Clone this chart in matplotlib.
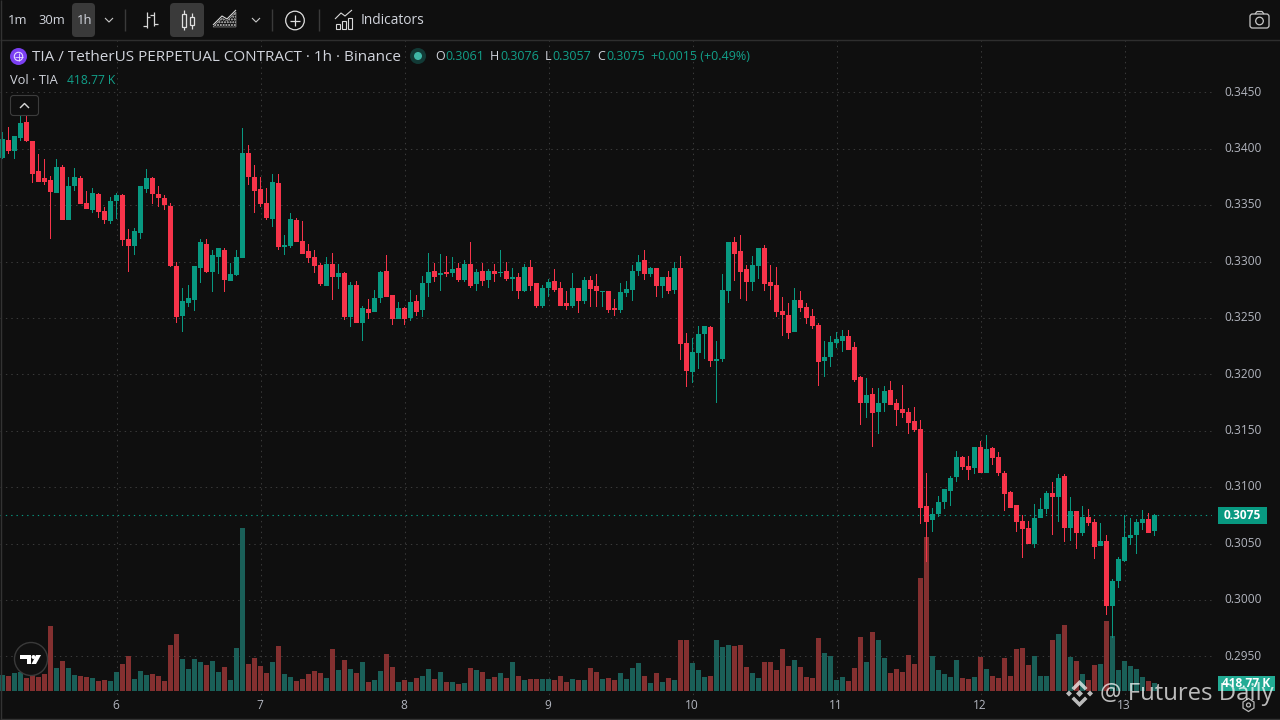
import matplotlib
matplotlib.use("Agg")
import matplotlib.pyplot as plt
from matplotlib.patches import FancyBboxPatch, Circle, Polygon, Rectangle
from matplotlib.transforms import ScaledTranslation

opens = [.3392,.3408,.3398,.3410,.3424,.3407,.3380,.3374,.3372,.3361,
.3384,.3337,.3367,.3374,.3352,.3346,.3360,.3345,.3336,.3354,
.3359,.3320,.3314,.3325,.3364,.3374,.3360,.3356,.3349,.3296,
.3252,.3263,.3266,.3294,.3316,.3291,.3304,.3310,.3283,.3288,
.3303,.3396,.3375,.3364,.3352,.3338,.3370,.3313,.3314,.3337,
.3318,.3309,.3304,.3297,.3278,.3298,.3286,.3290,.3251,.3279,
.3246,.3258,.3255,.3268,.3292,.3270,.3249,.3259,.3250,.3265,
.3257,.3281,.3292,.3288,.3291,.3290,.3294,.3284,.3298,.3280,
.3292,.3284,.3292,.3290,.3292,.3285,.3286,.3274,.3295,.3281,
.3261,.3277,.3283,.3277,.3263,.3261,.3277,.3265,.3284,.3278,
.3273,.3274,.3259,.3257,.3272,.3275,.3292,.3301,.3289,.3294,
.3278,.3286,.3275,.3294,.3228,.3202,.3219,.3236,.3242,.3212,
.3214,.3274,.3317,.3309,.3293,.3282,.3296,.3312,.3282,.3279,
.3256,.3253,.3238,.3266,.3260,.3252,.3244,.3212,.3215,.3228,
.3230,.3234,.3224,.3198,.3175,.3183,.3167,.3175,.3186,.3175,
.3169,.3167,.3159,.3152,.3083,.3071,.3076,.3087,.3097,.3109,
.3127,.3119,.3117,.3136,.3113,.3135,.3127,.3113,.3096,.3084,
.3070,.3064,.3050,.3073,.3081,.3095,.3091,.3110,.3064,.3079,
.3059,.3074,.3069,.3048,.3052,.2995,.3017,.3035,.3055,.3058,
.3068,.3072,.3061]
highs = [.3415,.3419,.3411,.3434,.3429,.3407,.3395,.3391,.3376,.3391,
.3386,.3375,.3383,.3376,.3363,.3365,.3361,.3348,.3357,.3361,
.3360,.3329,.3330,.3367,.3382,.3375,.3367,.3359,.3352,.3300,
.3277,.3279,.3296,.3320,.3320,.3310,.3312,.3312,.3299,.3310,
.3418,.3403,.3386,.3375,.3365,.3378,.3378,.3324,.3343,.3339,
.3336,.3316,.3310,.3299,.3304,.3308,.3298,.3291,.3282,.3283,
.3261,.3267,.3275,.3292,.3306,.3270,.3264,.3260,.3275,.3270,
.3287,.3308,.3299,.3307,.3305,.3304,.3299,.3301,.3317,.3293,
.3299,.3293,.3298,.3310,.3300,.3294,.3290,.3298,.3301,.3281,
.3279,.3285,.3293,.3282,.3274,.3290,.3277,.3286,.3287,.3289,
.3274,.3274,.3267,.3281,.3283,.3297,.3306,.3310,.3295,.3294,
.3286,.3292,.3300,.3305,.3237,.3232,.3243,.3243,.3243,.3230,
.3289,.3317,.3322,.3324,.3297,.3305,.3312,.3315,.3297,.3295,
.3269,.3263,.3277,.3274,.3263,.3258,.3246,.3230,.3234,.3238,
.3239,.3239,.3229,.3199,.3197,.3188,.3188,.3190,.3194,.3178,
.3191,.3170,.3171,.3160,.3113,.3082,.3092,.3098,.3110,.3132,
.3128,.3128,.3136,.3141,.3146,.3136,.3131,.3114,.3097,.3084,
.3075,.3070,.3085,.3090,.3097,.3105,.3112,.3112,.3091,.3079,
.3083,.3081,.3072,.3068,.3058,.3019,.3038,.3075,.3073,.3072,
.3080,.3077,.3076]
lows = [.3391,.3395,.3391,.3407,.3406,.3370,.3371,.3368,.3320,.3361,
.3337,.3337,.3363,.3351,.3347,.3343,.3339,.3333,.3333,.3338,
.3314,.3291,.3306,.3320,.3361,.3351,.3348,.3346,.3295,.3246,
.3238,.3260,.3256,.3281,.3290,.3273,.3289,.3273,.3283,.3287,
.3303,.3368,.3343,.3348,.3337,.3331,.3310,.3306,.3312,.3317,
.3307,.3299,.3290,.3278,.3278,.3266,.3276,.3248,.3242,.3246,
.3230,.3249,.3255,.3263,.3269,.3244,.3249,.3244,.3247,.3252,
.3251,.3269,.3282,.3274,.3286,.3286,.3282,.3282,.3277,.3274,
.3278,.3277,.3282,.3286,.3283,.3274,.3267,.3273,.3274,.3259,
.3259,.3269,.3273,.3261,.3257,.3259,.3254,.3262,.3260,.3260,
.3260,.3254,.3252,.3254,.3269,.3265,.3287,.3284,.3286,.3269,
.3268,.3271,.3271,.3213,.3189,.3192,.3205,.3214,.3207,.3175,
.3211,.3263,.3283,.3267,.3265,.3274,.3285,.3274,.3266,.3251,
.3234,.3231,.3238,.3255,.3245,.3240,.3190,.3198,.3207,.3223,
.3220,.3222,.3193,.3155,.3161,.3136,.3147,.3167,.3173,.3154,
.3161,.3147,.3149,.3067,.3034,.3060,.3074,.3081,.3083,.3105,
.3115,.3106,.3112,.3113,.3113,.3120,.3110,.3079,.3082,.3060,
.3037,.3050,.3046,.3073,.3076,.3058,.3069,.3051,.3052,.3045,
.3057,.3066,.3036,.3048,.2987,.2966,.3011,.3034,.3049,.3041,
.3062,.3059,.3057]
closes = [.3409,.3398,.3411,.3423,.3407,.3378,.3371,.3371,.3362,.3384,
.3337,.3367,.3375,.3351,.3347,.3361,.3344,.3337,.3354,.3359,
.3319,.3314,.3327,.3367,.3374,.3360,.3356,.3350,.3296,.3251,
.3265,.3268,.3296,.3317,.3291,.3306,.3312,.3284,.3289,.3304,
.3396,.3375,.3363,.3351,.3339,.3371,.3313,.3315,.3338,.3317,
.3307,.3303,.3296,.3280,.3298,.3286,.3290,.3251,.3279,.3246,
.3259,.3254,.3268,.3291,.3269,.3249,.3259,.3249,.3264,.3255,
.3281,.3291,.3286,.3290,.3289,.3293,.3284,.3298,.3278,.3291,
.3283,.3292,.3289,.3291,.3285,.3286,.3274,.3295,.3278,.3261,
.3277,.3282,.3275,.3261,.3261,.3277,.3265,.3284,.3276,.3274,
.3274,.3257,.3257,.3273,.3276,.3292,.3300,.3289,.3294,.3278,
.3286,.3274,.3294,.3227,.3203,.3220,.3236,.3243,.3212,.3214,
.3275,.3317,.3307,.3291,.3282,.3297,.3312,.3280,.3278,.3255,
.3253,.3237,.3266,.3259,.3250,.3243,.3211,.3215,.3229,.3231,
.3234,.3222,.3195,.3175,.3182,.3166,.3175,.3185,.3173,.3168,
.3166,.3157,.3151,.3082,.3069,.3076,.3087,.3098,.3108,.3127,
.3118,.3115,.3136,.3113,.3134,.3126,.3113,.3094,.3082,.3069,
.3063,.3050,.3073,.3081,.3095,.3091,.3108,.3064,.3079,.3059,
.3074,.3068,.3047,.3052,.2995,.3017,.3036,.3056,.3058,.3069,
.3072,.3059,.3075]
volumes_k = [838,785,942,1012,681,838,733,890,3403,1204,
1570,1204,838,785,733,681,524,576,524,995,
1413,1832,628,1047,838,890,785,524,2408,2984,
1675,1152,1675,1518,1361,1570,995,1256,576,2251,
8533,1413,1728,1309,942,1518,2356,890,733,524,
628,890,1047,942,681,2199,1099,1623,1152,942,
1518,471,576,1047,1937,1256,471,576,471,681,
785,1152,628,995,471,471,366,419,1204,1099,
995,628,733,942,681,1518,785,576,628,628,
628,628,576,785,471,628,576,576,1204,995,
628,681,576,942,628,1204,1466,785,419,942,
471,681,576,2670,2670,1466,1099,733,785,2670,
2303,2408,2356,2408,1256,942,681,1518,1518,1099,
2199,1309,1623,1256,733,681,2775,1989,1832,576,
733,524,1204,2827,1518,3089,2670,1728,942,1152,
995,1885,1413,5916,8062,1832,1099,890,733,1623,
681,628,733,1780,1152,785,681,1728,785,2199,
2251,1361,1832,785,785,2670,2984,3455,1780,1570,
890,576,1361,1413,3665,2879,1099,1570,1309,1152,
733,524,419]
price_ticks = [.2950,.3000,.3050,.3100,.3150,.3200,.3250,.3300,.3350,.3400,.3450]
day_labels = ["6","7","8","9","10","11","12","13"]
day_index = [19,43,67,91,115,139,163,187]
last_price = closes[-1]

W, H = 1280, 720
BG = "#0f0f0f"; UP = "#089981"; DOWN = "#f7344a"
VOL_UP = "#1a5f58"; VOL_DOWN = "#843030"
TXT = "#d1d4dc"; AX = "#b2b5be"; GRID = "#3a3a3a"
FONT = ["Open Sans", "DejaVu Sans"]
plt.rcParams["font.family"] = FONT

fig = plt.figure(figsize=(W/100, H/100), dpi=100, facecolor=BG)
L, R, T, B = 0, 1212, 40, 700
rect = [L/W, 1-B/H, (R-L)/W, (B-T)/H]
xl = ((L-2.5)/6, (R-2.5)/6)
ypx = lambda y: 0.3 + (600-y)/11280
yl = (ypx(B), ypx(T))
DOT = (0, (1.4, 4))

ag = fig.add_axes(rect, facecolor=BG, zorder=1)
av = fig.add_axes(rect, facecolor="none", zorder=2)
ax = fig.add_axes(rect, facecolor="none", zorder=3)
for a in (ag, av, ax):
    a.set_xlim(*xl)
    for s in a.spines.values():
        s.set_visible(False)
ag.set_ylim(*yl)
ax.set_ylim(*yl)
ag.set_xticks(day_index); ag.set_yticks(price_ticks)
ag.grid(True, color=GRID, lw=0.72, linestyle=DOT)
ag.tick_params(length=0, labelbottom=False, labelleft=False)
av.axis("off")
K_PER_PX = 52.35
av.set_ylim(-(B-691)*K_PER_PX, (691-T)*K_PER_PX)

xs = list(range(len(closes)))
up = [c >= o for o, c in zip(opens, closes)]
av.bar(xs, volumes_k, width=0.84, color=[VOL_UP if u else VOL_DOWN for u in up], lw=0)
ccol = [UP if u else DOWN for u in up]
ax.bar(xs, [h-l for h, l in zip(highs, lows)], bottom=lows, width=1/6, color=ccol, lw=0, zorder=2)
ax.bar(xs, [max(abs(c-o), 0.0001) for o, c in zip(opens, closes)],
       bottom=[min(o, c) for o, c in zip(opens, closes)],
       width=0.84, color=ccol, lw=0, zorder=3)
ax.axhline(last_price, color=UP, lw=0.8, linestyle=(0, (1.2, 3.6)), zorder=1)

ax.yaxis.tick_right()
ax.set_yticks(price_ticks, [f"{p:.4f}" for p in price_ticks])
ax.set_xticks(day_index, day_labels)
ax.tick_params(axis="y", length=0, pad=8.7, labelsize=8.6, labelcolor=AX)
ax.tick_params(axis="x", length=0, pad=-0.6, labelsize=8.6, labelcolor=AX)
up_shift = ScaledTranslation(0, 1.7/100, fig.dpi_scale_trans)
left_shift = ScaledTranslation(-1/100, 0, fig.dpi_scale_trans)
for lab in ax.get_yticklabels():
    lab.set_transform(lab.get_transform() + up_shift)
for lab in ax.get_xticklabels():
    lab.set_transform(lab.get_transform() + left_shift)

# overlay in pixel coordinates: toolbar, legend, badges, watermark
ov = fig.add_axes([0, 0, 1, 1], facecolor="none", zorder=5)
ov.set_xlim(0, W); ov.set_ylim(H, 0); ov.axis("off")
def line(xa, ya, c="#d8d8d8", lw=0.9, **k):
    ov.plot(xa, ya, color=c, lw=lw, solid_capstyle="butt", **k)
def txt(x, y, s, size=9.4, c=TXT, **k):
    k.setdefault("va", "center"); k.setdefault("ha", "left")
    ov.text(x, y, s, fontsize=size, color=c, **k)
def rbox(x, y, w, h, fc, ec="none", r=4, lw=0.8):
    ov.add_patch(FancyBboxPatch((x+r, y+r), w-2*r, h-2*r, boxstyle=f"round,pad={r},rounding_size={r}",
                                fc=fc, ec=ec, lw=lw))

line([0, 1280], [39.5, 39.5], "#2e2e2e", 1)
line([0.5, 0.5], [0, 720], "#333333", 1)
line([0, 1280], [719, 719], "#333333", 1)
rbox(72, 3, 23, 34, "#3a3a3a")
rbox(170, 3, 34, 34, "#3a3a3a")
txt(8, 21, "1m"); txt(38, 21, "30m"); txt(77, 21, "1h")
for cx in (109, 256):
    line([cx-4, cx, cx+4], [18, 22, 18], "#c8c8c8", 0.8)
for sx in (125, 272, 319):
    line([sx, sx], [9, 31], "#3a3a3a", 1)
# bar-style icon
line([147, 147], [12, 28]); line([143, 147], [26, 26]); line([147, 150], [17, 17])
line([154, 154], [12, 26]); line([150, 154], [15, 15]); line([154, 158], [24, 24])
# candle icon
ov.add_patch(Rectangle((181.5, 14), 4, 13, fc="none", ec="#e0e0e0", lw=0.9))
line([183.5, 183.5], [10, 14], "#e0e0e0"); line([183.5, 183.5], [27, 30], "#e0e0e0")
ov.add_patch(Rectangle((189.5, 17), 4, 8, fc="none", ec="#e0e0e0", lw=0.9))
line([191.5, 191.5], [13, 17], "#e0e0e0"); line([191.5, 191.5], [25, 29], "#e0e0e0")
# area icon
ov.add_patch(Polygon([(213, 27), (222, 18), (227, 21), (236, 12), (236, 27)], fc="none", ec="#cfcfcf", hatch="......", lw=0.3))
line([213, 222, 227, 236], [25, 16, 19, 10], "#d8d8d8", 0.8)
# plus in circle
ov.add_patch(Circle((295, 20.5), 9.3, fc="none", ec="#e0e0e0", lw=0.9))
line([295, 295], [15, 26], "#e0e0e0"); line([290, 300], [20.5, 20.5], "#e0e0e0")
# indicators icon
for bx, by in ((335.5, 24), (341.5, 21), (347.5, 18)):
    ov.add_patch(Rectangle((bx, by), 4.5, 29-by, fc="none", ec="#d8d8d8", lw=0.8))
line([335, 341, 345, 352], [19, 13, 16, 10], "#d8d8d8", 0.8)
txt(361, 21, "Indicators", 9.9)
# camera
rbox(1250, 14, 19, 14, "none", "#c8c8c8", r=2.5, lw=0.9)
ov.add_patch(Circle((1259.5, 21), 3.8, fc="none", ec="#c8c8c8", lw=0.9))
line([1255, 1257, 1262, 1264], [14, 11.5, 11.5, 14], "#c8c8c8", 0.9)

# legend
ov.add_patch(Circle((18.5, 56.5), 8.5, fc="#7b3ff2", ec="none"))
ov.add_patch(Circle((18.5, 56.5), 4.2, fc="none", ec="#e6dcff", lw=0.8))
line([14.5, 22.5], [56.5, 56.5], "#e6dcff", 0.6); line([18.5, 18.5], [52.5, 60.5], "#e6dcff", 0.6)
txt(32, 57.5, "TIA / TetherUS PERPETUAL CONTRACT · 1h · Binance", 10.98)
ov.add_patch(Circle((418, 56), 8, fc="#123a36", ec="none"))
ov.add_patch(Circle((418, 56), 4, fc="#3fb6a6", ec="none"))
LEG = "#12a08a"
for x, lab, xv, val in ((435, "O", 445, "0.3061"), (490, "H", 500, "0.3076"), (545, "L", 552, "0.3057"), (597, "C", 606, "0.3075")):
    txt(x, 57, lab, 9.0); txt(xv, 57, val, 9.0, LEG)
txt(651, 57, "+0.0015 (+0.49%)", 9.0, LEG)
txt(10, 81, "Vol · TIA", 9.3)
txt(67, 81, "418.77 K", 8.7, LEG)
rbox(10.5, 95.5, 28, 20, BG, "#3c3c3c", r=3)
line([20, 24.5, 29], [108, 103.5, 108], "#d8d8d8", 1)

# TradingView badge
ov.add_patch(Circle((31, 659), 16.5, fc="#111111", ec="#3a3a3a", lw=1))
ov.add_patch(Polygon([(20, 655), (31, 655), (31, 664), (27, 664), (27, 659), (20, 659)], fc="white", ec="none"))
ov.add_patch(Circle((33.5, 657), 2, fc="white", ec="none"))
ov.add_patch(Polygon([(36, 655), (41, 655), (36, 664), (31.5, 664)], fc="white", ec="none"))

# price badges
ov.add_patch(Rectangle((1218, 507), 49, 17, fc="#089981", ec="none"))
txt(1242.5, 515.5, f"{last_price:.4f}", 8.6, "white", ha="center", fontweight="bold")
ov.add_patch(Rectangle((1218, 676), 57, 15, fc="#22ab94", ec="none"))
txt(1246.5, 683.5, "418.77 K", 8.6, "white", ha="center", fontweight="bold")

# gear
hexa = [(1248.5, 698.5), (1254, 702), (1254, 708), (1248.5, 711.5), (1243, 708), (1243, 702)]
ov.add_patch(Polygon(hexa, fc="none", ec="#b8b8b8", lw=0.9))
ov.add_patch(Circle((1248.5, 705), 2, fc="none", ec="#b8b8b8", lw=0.9))

# watermark
WM = (1, 1, 1, 0.72)
cx0, cy0 = 1079.5, 693.5
offs_top = [(0, -13.5), (8, -5.5), (5.5, -3), (0, -8.5), (-5.5, -3), (-8, -5.5)]
ov.add_patch(Polygon([(cx0+a, cy0+b) for a, b in offs_top], fc=WM, ec="none"))
ov.add_patch(Polygon([(cx0+a, cy0-b) for a, b in offs_top], fc=WM, ec="none"))
for dx, r in ((0, 3.5), (-10.5, 3), (10.5, 3)):
    ov.add_patch(Polygon([(cx0+dx, cy0-r), (cx0+dx+r, cy0), (cx0+dx, cy0+r), (cx0+dx-r, cy0)], fc=WM, ec="none"))
txt(1100, 694, "@ Futures Daily", 17.2, WM)

fig.savefig("out.png", dpi=100, facecolor=BG)
